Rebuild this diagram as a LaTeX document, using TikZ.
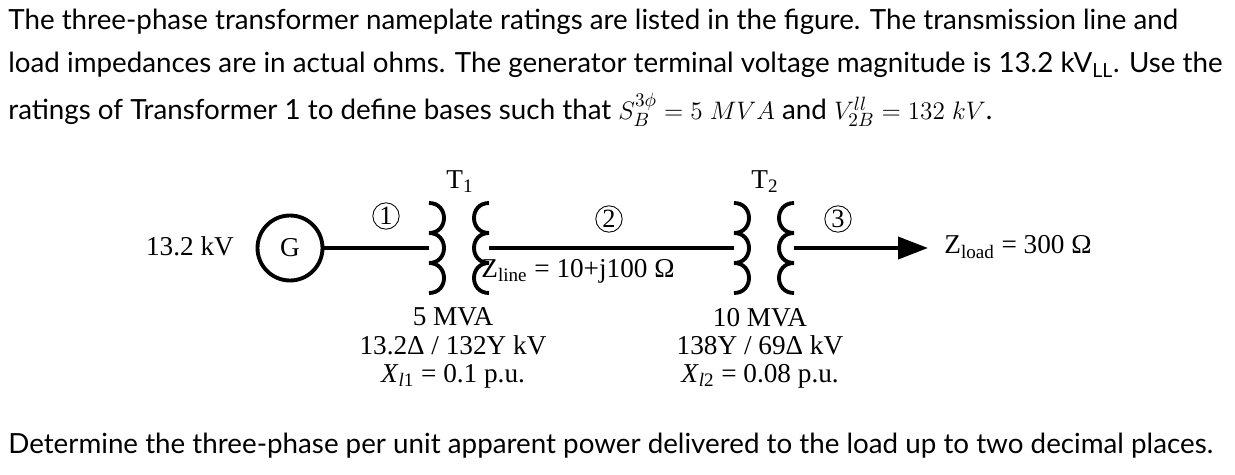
\documentclass[tikz,border=0pt]{standalone}
\usepackage{fontspec}
\setmainfont{Lato}
\newfontfamily\tms{Liberation Serif}
\usetikzlibrary{arrows.meta}
\begin{document}
\begin{tikzpicture}[x=0.02cm,y=-0.02cm,
 wire/.style={line width=2.2pt},
 coil/.style={line width=2.2pt},
 dg/.style={font=\tms\fontsize{15.5}{16}\selectfont, inner sep=0pt},
 bus/.style={circle,draw,line width=0.5pt,minimum size=15pt,inner sep=0pt,font=\tms\fontsize{15}{16}\selectfont},
 txt/.style={font=\fontsize{15.8}{17}\selectfont, anchor=west, inner sep=0pt}]
\useasboundingbox (0,0) rectangle (1235,474);
\node[txt] (l1) at (8,22) {The three-phase transformer nameplate ratings are listed in the figure. The transmission line and};
\node[txt] (l2) at (8,65) {load impedances are in actual ohms. The generator terminal voltage magnitude is 13.2 kV\textsubscript{LL}. Use the};
\node[txt] (l3) at (8,110) {ratings of Transformer 1 to define bases such that $S_B^{3\phi}=5\ MVA$ and $V_{2B}^{ll}=132\ kV$.};
\node[txt] (l4) at (8,446) {Determine the three-phase per unit apparent power delivered to the load up to two decimal places.};
% generator
\node[circle,draw,line width=2.2pt,minimum size=1.3cm,inner sep=0pt,dg] (G) at (290,248) {G};
\node[dg] (gv) at (190,246) {13.2 kV};
% coils
\coordinate (p1) at (429,248);
\coordinate (s1) at (489,248);
\coordinate (p2) at (734,248);
\coordinate (s2) at (794,248);
\foreach \x/\d in {429/20,489/-20,734/20,794/-20}{
 \draw[coil] (\x,203) .. controls (\x+\d,203) and (\x+\d,233) .. (\x,233)
   .. controls (\x+\d,233) and (\x+\d,263) .. (\x,263)
   .. controls (\x+\d,263) and (\x+\d,293) .. (\x,293);
}
\coordinate (load) at (928,248);
\draw[wire] (G.east) -- (p1);
\draw[wire] (s1) -- (p2);
\draw[wire,-{Triangle[length=30*0.02cm,width=22*0.02cm]}] (s2) -- (load);
\node[bus] (b1) at (386,216) {1};
\node[bus] (b2) at (609,219) {2};
\node[bus] (b3) at (838,219) {3};
\node[dg] (t1) at (460,182) {T\textsubscript{1}};
\node[dg] (t2) at (765,182) {T\textsubscript{2}};
\node[dg] (zl) at (578,271) {Z\textsubscript{line} = 10+j100 Ω};
\node[dg] (zd) at (1018,247) {Z\textsubscript{load} = 300 Ω};
\node[dg,align=center] (r1) at (453,348) {5 MVA\\13.2Δ / 132Y kV\\\textit{X}\textsubscript{\textit{l}1} = 0.1 p.u.};
\node[dg,align=center] (r2) at (760,348) {10 MVA\\138Y / 69Δ kV\\\textit{X}\textsubscript{\textit{l}2} = 0.08 p.u.};
\end{tikzpicture}
\end{document}
